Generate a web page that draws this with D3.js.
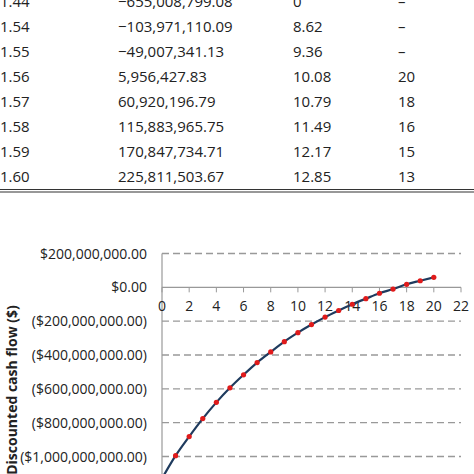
<!DOCTYPE html><html><head><meta charset="utf-8"><script src="https://cdn.jsdelivr.net/npm/d3@7"></script>
<style>body{margin:0;background:#fff}</style></head><body><svg id="c" width="474" height="474"></svg>
<script>
const tableRows = [
 ["1.44","\u2212655,008,799.08","0","\u2013"],
 ["1.54","\u2212103,971,110.09","8.62","\u2013"],
 ["1.55","\u221249,007,341.13","9.36","\u2013"],
 ["1.56","5,956,427.83","10.08","20"],
 ["1.57","60,920,196.79","10.79","18"],
 ["1.58","115,883,965.75","11.49","16"],
 ["1.59","170,847,734.71","12.17","15"],
 ["1.60","225,811,503.67","12.85","13"]
];
const years = [0,1,2,3,4,5,6,7,8,9,10,11,12,13,14,15,16,17,18,19,20];
const dcf = [-1130,-995,-882,-776,-680,-594,-517,-445,-382,-321,-268,-220,-176,-137,-100,-67,-35,-10,18,39,59].map(v=>v*1e6);
const yTicks = [200e6,0,-200e6,-400e6,-600e6,-800e6,-1000e6];
const xTicks = [0,2,4,6,8,10,12,14,16,18,20,22];

const svg = d3.select("#c");
const font = "'Open Sans', 'Liberation Sans', sans-serif";
const cfont = "'Liberation Sans Narrow', 'Open Sans', sans-serif";
const colX = [0,118,293,398];
const rowY = d3.scaleLinear().domain([0,1]).range([2,27]);
tableRows.forEach((r,i)=>{
  r.forEach((t,j)=>svg.append("text").attr("x",colX[j]).attr("y",rowY(i)+5)
    .attr("font-family",font).attr("font-size",15).attr("fill","#222").text(t));
});
svg.append("line").attr("x1",0).attr("x2",474).attr("y1",189.5).attr("y2",189.5).attr("stroke","#333").attr("stroke-width",1.2);
svg.append("line").attr("x1",0).attr("x2",474).attr("y1",192).attr("y2",192).attr("stroke","#333").attr("stroke-width",1.2);

const x = d3.scaleLinear().domain([0,22]).range([162,461]);
const y = d3.scaleLinear().domain([200e6,-1000e6]).range([253.5,456.5]);
const g = svg.append("g");
svg.append("clipPath").attr("id","cp").append("rect").attr("x",150).attr("y",230).attr("width",324).attr("height",244);
yTicks.forEach(t=>{
  if(t!==0) g.append("line").attr("x1",x(0)).attr("x2",x(22)).attr("y1",y(t)).attr("y2",y(t))
    .attr("stroke","#999").attr("stroke-width",1.3).attr("stroke-dasharray","7,4");
  const fmt = "$"+d3.format(",.2f")(Math.abs(t));
  g.append("text").attr("x",147).attr("y",y(t)+5).attr("text-anchor","end")
   .attr("font-family",cfont).attr("font-size",14).attr("fill","#222").text(t<0?"("+fmt+")":fmt);
});
g.append("line").attr("x1",x(0)).attr("x2",x(0)).attr("y1",y(200e6)).attr("y2",474).attr("stroke","#999").attr("stroke-width",1.2);
g.append("line").attr("x1",x(0)).attr("x2",x(22)).attr("y1",y(0)).attr("y2",y(0)).attr("stroke","#999").attr("stroke-width",1.2);
xTicks.forEach(t=>{
  g.append("line").attr("x1",x(t)).attr("x2",x(t)).attr("y1",y(0)).attr("y2",y(0)+5).attr("stroke","#999");
  g.append("text").attr("x",x(t)).attr("y",y(0)+24).attr("text-anchor","middle")
   .attr("font-family",cfont).attr("font-size",14).attr("fill","#222").text(t);
});
const pts = years.map((t,i)=>[t,dcf[i]]);
const cg = svg.append("g").attr("clip-path","url(#cp)");
cg.append("path").datum(pts).attr("fill","none").attr("stroke","#1f3b5e").attr("stroke-width",2.2)
  .attr("d",d3.line().x(d=>x(d[0])).y(d=>y(d[1])).curve(d3.curveMonotoneX));
cg.selectAll("circle").data(pts.slice(1)).join("circle").attr("cx",d=>x(d[0])).attr("cy",d=>y(d[1])).attr("r",2.6).attr("fill","#e01b1b");
svg.append("text").attr("transform","translate(17,390) rotate(-90)").attr("text-anchor","middle")
  .attr("font-family",cfont).attr("font-weight","bold").attr("font-size",14).attr("fill","#222").text("Discounted cash flow ($)");
</script></body></html>
